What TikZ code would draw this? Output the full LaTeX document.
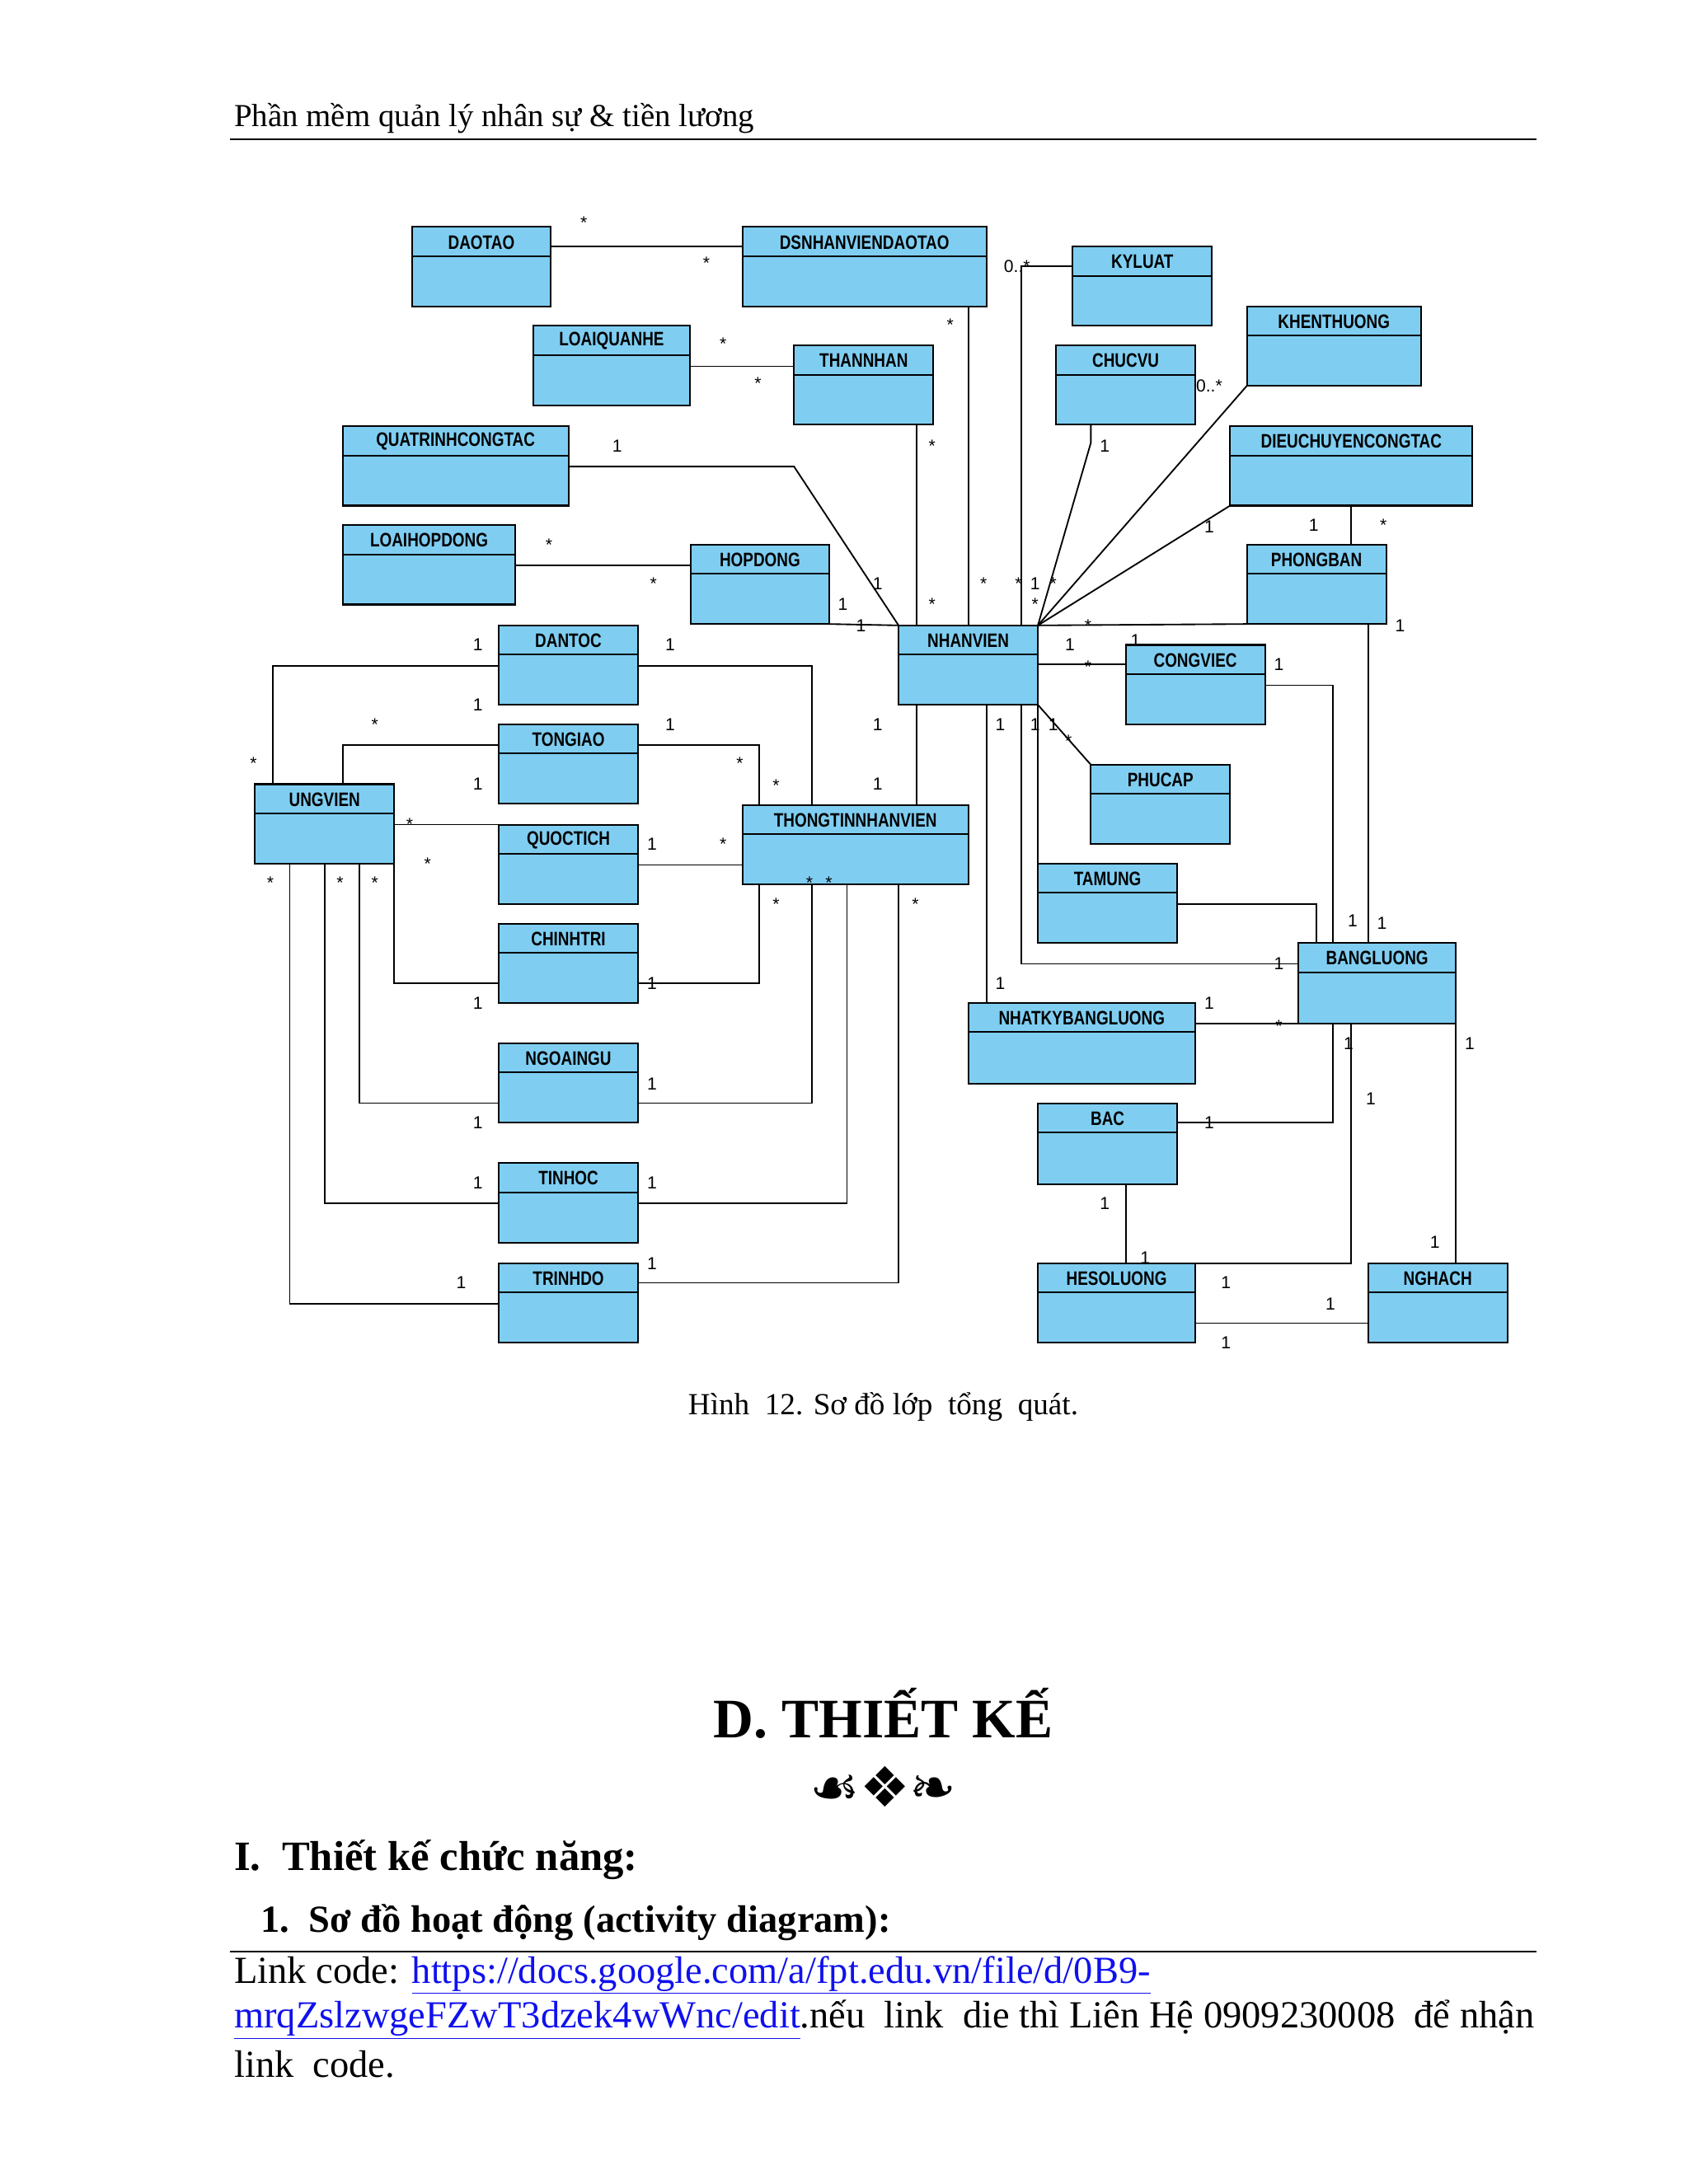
\documentclass[tikz,border=0pt]{standalone}
\usepackage{fontspec}
\setmainfont{Liberation Serif}
\newfontfamily\boxfont{Liberation Sans}
\newfontfamily\symfont{DejaVu Sans}
\definecolor{clsfill}{HTML}{7FCEF2}
\definecolor{linkblue}{HTML}{1010EE}
\tikzset{
  cls/.style={draw=black, line width=1.2pt, fill=clsfill, inner sep=0pt, outer sep=0pt},
  lbl/.style={font=\boxfont\bfseries\fontsize{14}{14}\selectfont, inner sep=0pt},
  mult/.style={font=\boxfont\fontsize{12.5}{12.5}\selectfont, inner sep=0pt},
  conn/.style={line width=1.1pt},
  txt/.style={anchor=west, inner sep=0pt},
}
\newcommand\cbox[6]{%
  \node[cls, minimum width={(#4-#2)*1pt}, minimum height={(#5-#3)*1pt}, anchor=north west] (#1) at (#2,#3) {};
  \draw[line width=1.2pt] (#2,#3+21) -- (#4,#3+21);
  \node[lbl] at ({(#2+#4)/2},#3+11) {\scalebox{0.8}[1]{#6}};}
\newcommand\ml[3]{\node[mult] at (#1,#2) {#3};}
\begin{document}
\begin{tikzpicture}[x=1pt,y=-1pt]
\useasboundingbox (0,0) rectangle (1212,1568);
% header
\node[txt, font=\fontsize{23}{23}\selectfont] (hdr) at (168,85) {Phần mềm quản lý nhân sự \& tiền lương};
\draw[line width=1pt] (165,100) -- (1103,100);
% boxes
\cbox{DAOTAO}{296}{163}{395}{220}{DAOTAO}
\cbox{DSNV}{533}{163}{708}{220}{DSNHANVIENDAOTAO}
\cbox{KYLUAT}{770}{177}{870}{234}{KYLUAT}
\cbox{LOAIQUANHE}{383}{234}{495}{291}{LOAIQUANHE}
\cbox{THANNHAN}{570}{248}{670}{305}{THANNHAN}
\cbox{CHUCVU}{758}{248}{858}{305}{CHUCVU}
\cbox{KHENTHUONG}{895}{220}{1020}{277}{KHENTHUONG}
\cbox{QUATRINH}{246}{306}{408}{363}{QUATRINHCONGTAC}
\cbox{DIEUCHUYEN}{883}{306}{1057}{363}{DIEUCHUYENCONGTAC}
\cbox{LOAIHOPDONG}{246}{377}{370}{434}{LOAIHOPDONG}
\cbox{HOPDONG}{496}{391}{595}{448}{HOPDONG}
\cbox{PHONGBAN}{895}{391}{995}{448}{PHONGBAN}
\cbox{NHANVIEN}{645}{449}{745}{506}{NHANVIEN}
\cbox{DANTOC}{358}{449}{458}{506}{DANTOC}
\cbox{CONGVIEC}{808}{463}{908}{520}{CONGVIEC}
\cbox{TONGIAO}{358}{520}{458}{577}{TONGIAO}
\cbox{PHUCAP}{783}{549}{883}{606}{PHUCAP}
\cbox{UNGVIEN}{183}{563}{283}{620}{UNGVIEN}
\cbox{THONGTIN}{533}{578}{695}{635}{THONGTINNHANVIEN}
\cbox{QUOCTICH}{358}{592}{458}{649}{QUOCTICH}
\cbox{TAMUNG}{745}{620}{845}{677}{TAMUNG}
\cbox{CHINHTRI}{358}{663}{458}{720}{CHINHTRI}
\cbox{BANGLUONG}{932}{677}{1045}{735}{BANGLUONG}
\cbox{NHATKY}{695}{720}{858}{778}{NHATKYBANGLUONG}
\cbox{NGOAINGU}{358}{749}{458}{806}{NGOAINGU}
\cbox{BAC}{745}{792}{845}{850}{BAC}
\cbox{TINHOC}{358}{835}{458}{892}{TINHOC}
\cbox{HESOLUONG}{745}{907}{858}{964}{HESOLUONG}
\cbox{NGHACH}{982}{907}{1082}{964}{NGHACH}
\cbox{TRINHDO}{358}{907}{458}{964}{TRINHDO}
% connectors
\draw[conn] (DAOTAO.east|-0,177) -- (DSNV.west|-0,177);
\draw[conn] (DSNV.south-|695,0) -- (NHANVIEN.north-|695,0);
\draw[conn] (LOAIQUANHE.east|-0,263) -- (THANNHAN.west|-0,263);
\draw[conn] (THANNHAN.south-|658,0) -- (NHANVIEN.north-|658,0);
\draw[conn] (KYLUAT.west|-0,191) -- (733,191) -- (NHANVIEN.north-|733,0);
\draw[conn] (CHUCVU.south-|783,0) -- (783,318) -- (NHANVIEN.north east);
\draw[conn] (KHENTHUONG.south west) -- (NHANVIEN.north east);
\draw[conn] (DIEUCHUYEN.south west) -- (NHANVIEN.north east);
\draw[conn] (DIEUCHUYEN.south-|970,0) -- (PHONGBAN.north-|970,0);
\draw[conn] (QUATRINH.east|-0,335) -- (570,335) -- (NHANVIEN.north west);
\draw[conn] (LOAIHOPDONG.east|-0,406) -- (HOPDONG.west|-0,406);
\draw[conn] (HOPDONG.south east) -- (NHANVIEN.north west);
\draw[conn] (NHANVIEN.north east) -- (PHONGBAN.south west);
\draw[conn] (PHONGBAN.south-|982,0) -- (BANGLUONG.north-|982,0);
\draw[conn] (NHANVIEN.east|-0,477) -- (CONGVIEC.west|-0,477);
\draw[conn] (CONGVIEC.east|-0,492) -- (957,492) -- (BANGLUONG.north-|957,0);
\draw[conn] (NHANVIEN.south east) -- (PHUCAP.north west);
\draw[conn] (NHANVIEN.south east) -- (TAMUNG.north west);
\draw[conn] (TAMUNG.east|-0,649) -- (945,649) -- (BANGLUONG.north-|945,0);
\draw[conn] (NHANVIEN.south-|733,0) -- (733,692) -- (BANGLUONG.west|-0,692);
\draw[conn] (NHATKY.east|-0,735) -- (BANGLUONG.south west);
\draw[conn] (NHANVIEN.south-|708,0) -- (NHATKY.north-|708,0);
\draw[conn] (BANGLUONG.south-|957,0) -- (957,806) -- (BAC.east|-0,806);
\draw[conn] (BANGLUONG.south-|970,0) -- (970,907) -- (HESOLUONG.north east);
\draw[conn] (BAC.south-|808,0) -- (HESOLUONG.north-|808,0);
\draw[conn] (BANGLUONG.south east) -- (NGHACH.north-|1045,0);
\draw[conn] (HESOLUONG.east|-0,950) -- (NGHACH.west|-0,950);
\draw[conn] (NHANVIEN.south-|658,0) -- (THONGTIN.north-|658,0);
\draw[conn] (THONGTIN.south-|645,0) -- (645,921) -- (TRINHDO.east|-0,921);
\draw[conn] (THONGTIN.south-|608,0) -- (608,864) -- (TINHOC.east|-0,864);
\draw[conn] (THONGTIN.south-|583,0) -- (583,792) -- (NGOAINGU.east|-0,792);
\draw[conn] (THONGTIN.south-|545,0) -- (545,706) -- (CHINHTRI.east|-0,706);
\draw[conn] (QUOCTICH.east|-0,621) -- (THONGTIN.west|-0,621);
\draw[conn] (TONGIAO.east|-0,535) -- (545,535) -- (THONGTIN.north-|545,0);
\draw[conn] (DANTOC.east|-0,478) -- (583,478) -- (THONGTIN.north-|583,0);
\draw[conn] (DANTOC.west|-0,478) -- (196,478) -- (UNGVIEN.north-|196,0);
\draw[conn] (TONGIAO.west|-0,535) -- (246,535) -- (UNGVIEN.north-|246,0);
\draw[conn] (UNGVIEN.east|-0,592) -- (QUOCTICH.west|-0,592);
\draw[conn] (UNGVIEN.south east) -- (283,706) -- (CHINHTRI.west|-0,706);
\draw[conn] (UNGVIEN.south-|258,0) -- (258,792) -- (NGOAINGU.west|-0,792);
\draw[conn] (UNGVIEN.south-|233,0) -- (233,864) -- (TINHOC.west|-0,864);
\draw[conn] (UNGVIEN.south-|208,0) -- (208,936) -- (TRINHDO.west|-0,936);
% multiplicities
\ml{419}{160}{*}\ml{507}{189}{*}
\ml{682}{233}{*}\ml{706}{419}{*}
\ml{519}{247}{*}\ml{544}{275}{*}
\ml{669}{320}{*}\ml{669}{434}{*}
\ml{730}{191}{0..*}\ml{731}{419}{*}\ml{743}{419}{1}\ml{756}{419}{*}\ml{743}{434}{*}
\ml{793}{320}{1}\ml{868}{277}{0..*}\ml{868}{378}{1}
\ml{943}{377}{1}\ml{993}{377}{*}
\ml{443}{320}{1}\ml{630}{419}{1}
\ml{394}{391}{*}\ml{469}{419}{*}
\ml{605}{434}{1}\ml{618}{449}{1}
\ml{781}{449}{*}\ml{1005}{449}{1}\ml{992}{663}{1}
\ml{768}{463}{1}\ml{781}{479}{*}\ml{815}{460}{1}
\ml{918}{477}{1}\ml{971}{661}{1}
\ml{743}{520}{1}\ml{756}{520}{1}\ml{767}{532}{*}
\ml{718}{520}{1}\ml{718}{706}{1}\ml{918}{692}{1}
\ml{868}{720}{1}\ml{918}{737}{*}
\ml{868}{806}{1}\ml{968}{749}{1}
\ml{984}{789}{1}\ml{822}{903}{1}\ml{793}{864}{1}
\ml{1055}{749}{1}\ml{1030}{892}{1}
\ml{880}{921}{1}\ml{955}{936}{1}\ml{880}{964}{1}
\ml{630}{520}{1}\ml{630}{563}{1}
\ml{657}{649}{*}\ml{468}{907}{1}
\ml{595}{634}{*}\ml{468}{849}{1}
\ml{581}{634}{*}\ml{468}{778}{1}
\ml{557}{649}{*}\ml{468}{706}{1}
\ml{468}{606}{1}\ml{519}{606}{*}
\ml{481}{520}{1}\ml{531}{548}{*}
\ml{481}{463}{1}\ml{557}{564}{*}
\ml{343}{463}{1}\ml{182}{548}{*}
\ml{343}{506}{1}\ml{269}{520}{*}\ml{343}{563}{1}
\ml{294}{592}{*}\ml{307}{620}{*}
\ml{343}{720}{1}
\ml{269}{634}{*}\ml{343}{806}{1}
\ml{244}{634}{*}\ml{343}{849}{1}
\ml{194}{634}{*}\ml{331}{921}{1}
% caption & text
\node[font=\fontsize{22}{22}\selectfont, inner sep=0pt] (cap) at (634,1010) {Hình\ \ 12. Sơ đồ lớp\ \ tổng\ \ quát.};
\node[font=\bfseries\fontsize{40}{40}\selectfont, inner sep=0pt] (title) at (634,1230) {D. THIẾT KẾ};
\node[font=\symfont\fontsize{40}{40}\selectfont, inner sep=0pt] (orn) at (634,1283) {☙❖❧};
\node[txt, font=\bfseries\fontsize{30}{30}\selectfont] (s1) at (168,1335) {I.\ \ Thiết\ kế\ chức\ năng:};
\node[txt, font=\bfseries\fontsize{27.5}{27.5}\selectfont] (s2) at (187,1380) {1.\ \ Sơ đồ hoạt động (activity diagram):};
\draw[line width=1pt] (165,1401) -- (1103,1401);
\node[txt, font=\fontsize{27.5}{27.5}\selectfont] (l1) at (168,1418) {Link code: \textcolor{linkblue}{\underline{https://docs.google.com/a/fpt.edu.vn/file/d/0B9-}}};
\node[txt, font=\fontsize{27.5}{27.5}\selectfont] (l2) at (168,1450) {\textcolor{linkblue}{\underline{mrqZslzwgeFZwT3dzek4wWnc/edit}}.nếu\ \ link\ \ die thì Liên Hệ 0909230008\ \ để nhận};
\node[txt, font=\fontsize{27.5}{27.5}\selectfont] (l3) at (168,1482) {link\ \ code.};
\end{tikzpicture}
\end{document}
